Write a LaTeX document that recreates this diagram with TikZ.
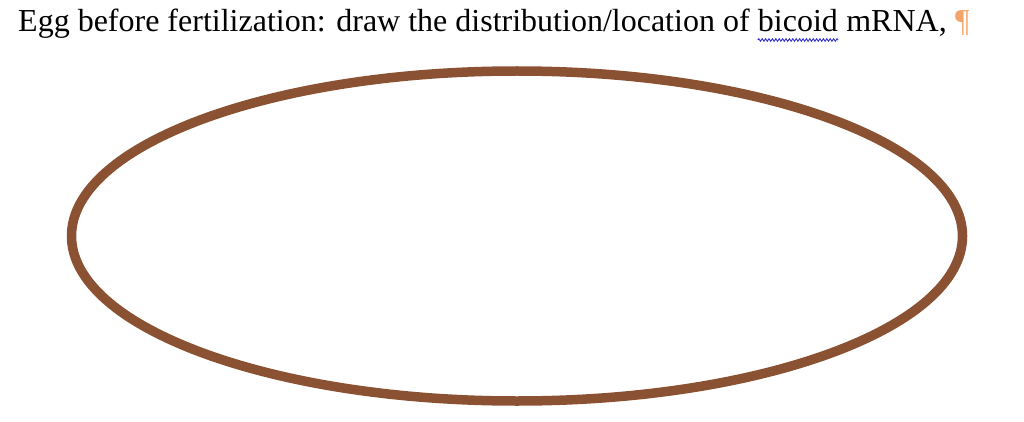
\documentclass[tikz,border=0pt]{standalone}
\usepackage{fontspec}
\setmainfont{Liberation Serif}
\usetikzlibrary{decorations.pathmorphing,shapes.geometric}
\definecolor{eggbrown}{RGB}{138,82,50}
\definecolor{pilcrow}{RGB}{243,165,105}
\definecolor{spellblue}{RGB}{50,50,210}
\begin{document}
\begin{tikzpicture}[x=1pt,y=1pt,
  txt/.style={font=\fontsize{32}{34}\selectfont, inner sep=0pt, anchor=base west},
  eggshape/.style={draw=eggbrown, line width=9.5pt, ellipse, inner sep=0pt,
    minimum width=891pt, minimum height=330pt}]
\useasboundingbox (0,0) rectangle (1024,421);
\node[txt] (t1) at (18,389) {Egg before fertilization: draw the distribution/location of};
\node[txt, anchor=base west] (t2) at ([xshift=8pt]t1.base east) {bicoid};
\node[txt, anchor=base west] (t3) at ([xshift=8pt]t2.base east) {mRNA,};
\node[txt, anchor=base west, text=pilcrow] (t4) at ([xshift=8pt]t3.base east) {¶};
\draw[spellblue, line width=0.9pt, decorate, decoration={snake, segment length=3.4pt, amplitude=1.3pt}]
  ([yshift=-8pt]t2.base west) -- ([yshift=-8pt]t2.base east);
\node[eggshape] (egg) at (517,185) {};
\end{tikzpicture}
\end{document}
